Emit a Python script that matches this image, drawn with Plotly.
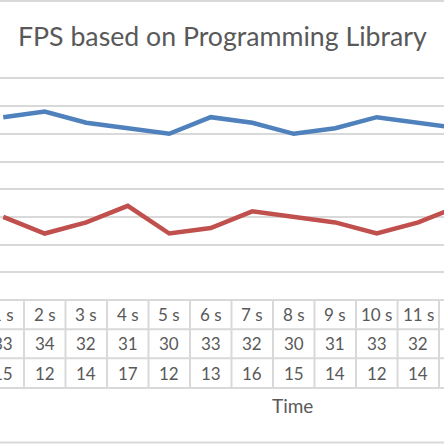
import plotly.graph_objects as go

# ---- data ----
categories = ["1 s", "2 s", "3 s", "4 s", "5 s", "6 s", "7 s", "8 s", "9 s", "10 s", "11 s", "12 s"]
series_a = [33, 34, 32, 31, 30, 33, 32, 30, 31, 33, 32, 31]
series_b = [15, 12, 14, 17, 12, 13, 16, 15, 14, 12, 14, 17]
title_text = "FPS based on Programming Library"
x_title = "Time"

# ---- layout constants (pixels) ----
W = H = 444
def py(px):
    return 1 - px / H

TXT = "#595959"
GRID = "#d9d9d9"
FONT = "Lato"

y0_px, y40_px = 300.0, 78.4
ppu = (y0_px - y40_px) / 40.0
ytop = 40.5
dom_top = py(y0_px - ytop * ppu)

row_lines = [300.0, 329.3, 358.3, 388.0]

fig = go.Figure()
fig.add_trace(go.Scatter(x=categories, y=series_a, mode="lines", name="Series A",
                         line=dict(color="#4f81bd", width=4.5)))
fig.add_trace(go.Scatter(x=categories, y=series_b, mode="lines", name="Series B",
                         line=dict(color="#c0504d", width=4.5)))

shapes = []
# table horizontal lines
for yp in row_lines:
    shapes.append(dict(type="line", xref="paper", yref="paper", x0=0, x1=1,
                       y0=py(yp), y1=py(yp), line=dict(color=GRID, width=2)))
# table vertical lines
for i in range(len(categories) + 1):
    shapes.append(dict(type="line", xref="x", yref="paper", x0=i - 0.5, x1=i - 0.5,
                       y0=py(row_lines[0]), y1=py(row_lines[-1]), line=dict(color=GRID, width=2)))
# chart border lines top/bottom
for yp in [1.0, 442.5]:
    shapes.append(dict(type="line", xref="paper", yref="paper", x0=0, x1=1,
                       y0=py(yp), y1=py(yp), line=dict(color=GRID, width=2)))

annotations = []
rows = [categories, [str(v) for v in series_a], [str(v) for v in series_b]]
for r, vals in enumerate(rows):
    yc = (row_lines[r] + row_lines[r + 1]) / 2
    for c, v in zip(categories, vals):
        annotations.append(dict(x=c, y=py(yc), xref="x", yref="paper", text=v,
                                showarrow=False, xanchor="center", yanchor="middle",
                                font=dict(family=FONT, size=17, color=TXT)))

annotations.append(dict(x=222.5 / W, y=py(36), xref="paper", yref="paper", text=title_text,
                        showarrow=False, xanchor="center", yanchor="middle",
                        font=dict(family=FONT, size=26.7, color=TXT)))
annotations.append(dict(x=292.7 / W, y=py(405), xref="paper", yref="paper", text=x_title,
                        showarrow=False, xanchor="center", yanchor="middle",
                        font=dict(family=FONT, size=19, color=TXT)))

fig.update_layout(
    width=W, height=H, margin=dict(l=0, r=0, t=0, b=0),
    paper_bgcolor="white", plot_bgcolor="white", showlegend=False,
    xaxis=dict(range=[-0.078, 10.62], showgrid=False, showticklabels=False, ticks="",
               zeroline=False, showline=False, domain=[0, 1]),
    yaxis=dict(range=[0, ytop], dtick=5, tick0=0, showgrid=True, gridcolor=GRID, gridwidth=2,
               showticklabels=False, ticks="", zeroline=False, showline=False,
               domain=[py(y0_px), dom_top]),
    shapes=shapes, annotations=annotations,
)

fig.write_html("out.html")
